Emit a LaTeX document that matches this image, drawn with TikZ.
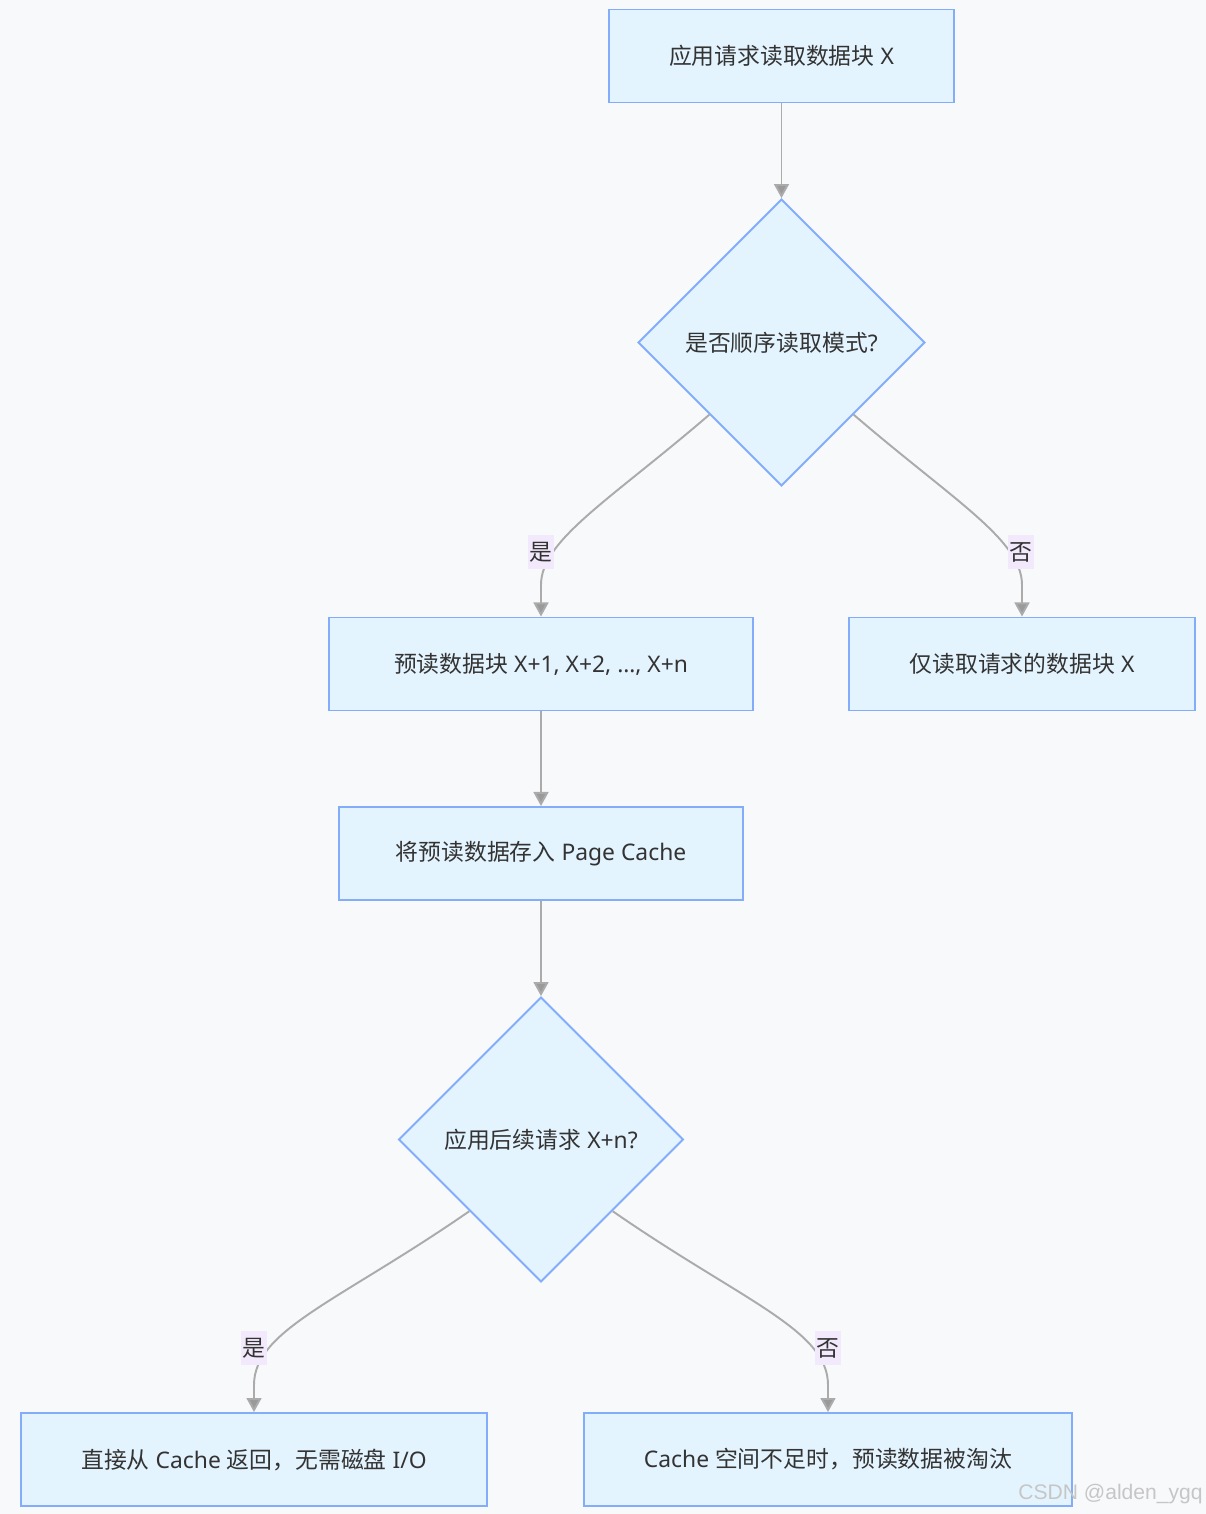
\documentclass[tikz,border=0pt]{standalone}
\usepackage{fontspec}
\setmainfont{Noto Sans CJK SC}
\newfontfamily\latinfam{Noto Sans}
\newfontfamily\markfont{Liberation Sans}
\usepackage{xcolor}
\usepackage{tikz}
\usetikzlibrary{shapes.geometric}
\usetikzlibrary{arrows.meta}
\definecolor{bgcol}{HTML}{F8F9FB}
\definecolor{boxfill}{HTML}{E4F4FE}
\definecolor{boxline}{HTML}{83ADFB}
\definecolor{flowline}{HTML}{ABABAB}
\definecolor{tipfill}{HTML}{9A9A9A}
\definecolor{lblfill}{HTML}{F3E9FC}
\definecolor{txtcol}{HTML}{333333}
\newcommand{\chartfont}{\fontsize{13}{15}\selectfont}
\newcommand{\latseg}[1]{{\latinfam #1}}
\tikzset{
    procbox/.style={rectangle, draw=boxline, fill=boxfill, line width=1.1pt,
        minimum height=1.86cm, inner sep=0pt, text=txtcol, font=\chartfont},
    decbox/.style={diamond, aspect=1, draw=boxline, fill=boxfill, line width=1.1pt,
        inner sep=0pt, text=txtcol, font=\chartfont},
    flow/.style={draw=flowline, line width=1.1pt,
        -{Triangle[width=8.5pt,length=8pt,fill=tipfill]}},
    lbl/.style={fill=lblfill, inner xsep=1pt, inner ysep=0pt,
        minimum height=0.68cm, text=txtcol, font=\chartfont}
}
\begin{document}
\begin{tikzpicture}[x=0.02cm, y=-0.02cm]
    % 背景与边界
    \fill[bgcol] (0,0) rectangle (1206,1514);
    \useasboundingbox (0,0) rectangle (1206,1514);
    % 流程节点
    \node[procbox, minimum width=6.9cm] (req) at (781.5,56) {应用请求读取数据块\latseg{ X}};
    \node[decbox, minimum width=5.74cm, minimum height=5.74cm] (seq) at (781.5,342.5) {是否顺序读取模式\latseg{?}};
    \node[procbox, minimum width=8.48cm] (pre) at (541,664) {预读数据块\latseg{ X+1, X+2, \dots, X+n}};
    \node[procbox, minimum width=6.92cm] (only) at (1022,664) {仅读取请求的数据块\latseg{ X}};
    \node[procbox, minimum width=8.08cm] (store) at (541,853.5) {将预读数据存入\latseg{ Page Cache}};
    \node[decbox, minimum width=5.7cm, minimum height=5.7cm] (next) at (541,1139.5) {应用后续请求\latseg{ X+n?}};
    \node[procbox, minimum width=9.32cm] (hit) at (254,1459.5) {直接从\latseg{ Cache }返回，无需磁盘\latseg{ I/O}};
    \node[procbox, minimum width=9.76cm] (evict) at (828,1459.5) {\latseg{Cache }空间不足时，预读数据被淘汰};
    % 曲线转直线的点
    \coordinate (preIn) at (541,585);
    \coordinate (onlyIn) at (1022,585);
    \coordinate (hitIn) at (254,1385);
    \coordinate (evictIn) at (828,1385);
    % 连线
    \draw[flow] (req.south) -- (seq.north);
    \draw[flow] (seq.south west) .. controls +(-100,86) and +(0,-45) .. (preIn) -- (pre.north);
    \draw[flow] (seq.south east) .. controls +(100,86) and +(0,-45) .. (onlyIn) -- (only.north);
    \draw[flow] (pre.south) -- (store.north);
    \draw[flow] (store.south) -- (next.north);
    \draw[flow] (next.south west) .. controls +(-130,90) and +(0,-55) .. (hitIn) -- (hit.north);
    \draw[flow] (next.south east) .. controls +(130,90) and +(0,-55) .. (evictIn) -- (evict.north);
    % 分支标签
    \node[lbl] (yesA) at (541,552) {是};
    \node[lbl] (noA) at (1021,552) {否};
    \node[lbl] (yesB) at (254,1348) {是};
    \node[lbl] (noB) at (828,1348) {否};
    % 水印
    \node[anchor=south east, inner sep=0pt, text=gray!45, font=\markfont\fontsize{12}{13}\selectfont] (mark) at (1203,1504) {CSDN @alden\_ygq};
\end{tikzpicture}
\end{document}
